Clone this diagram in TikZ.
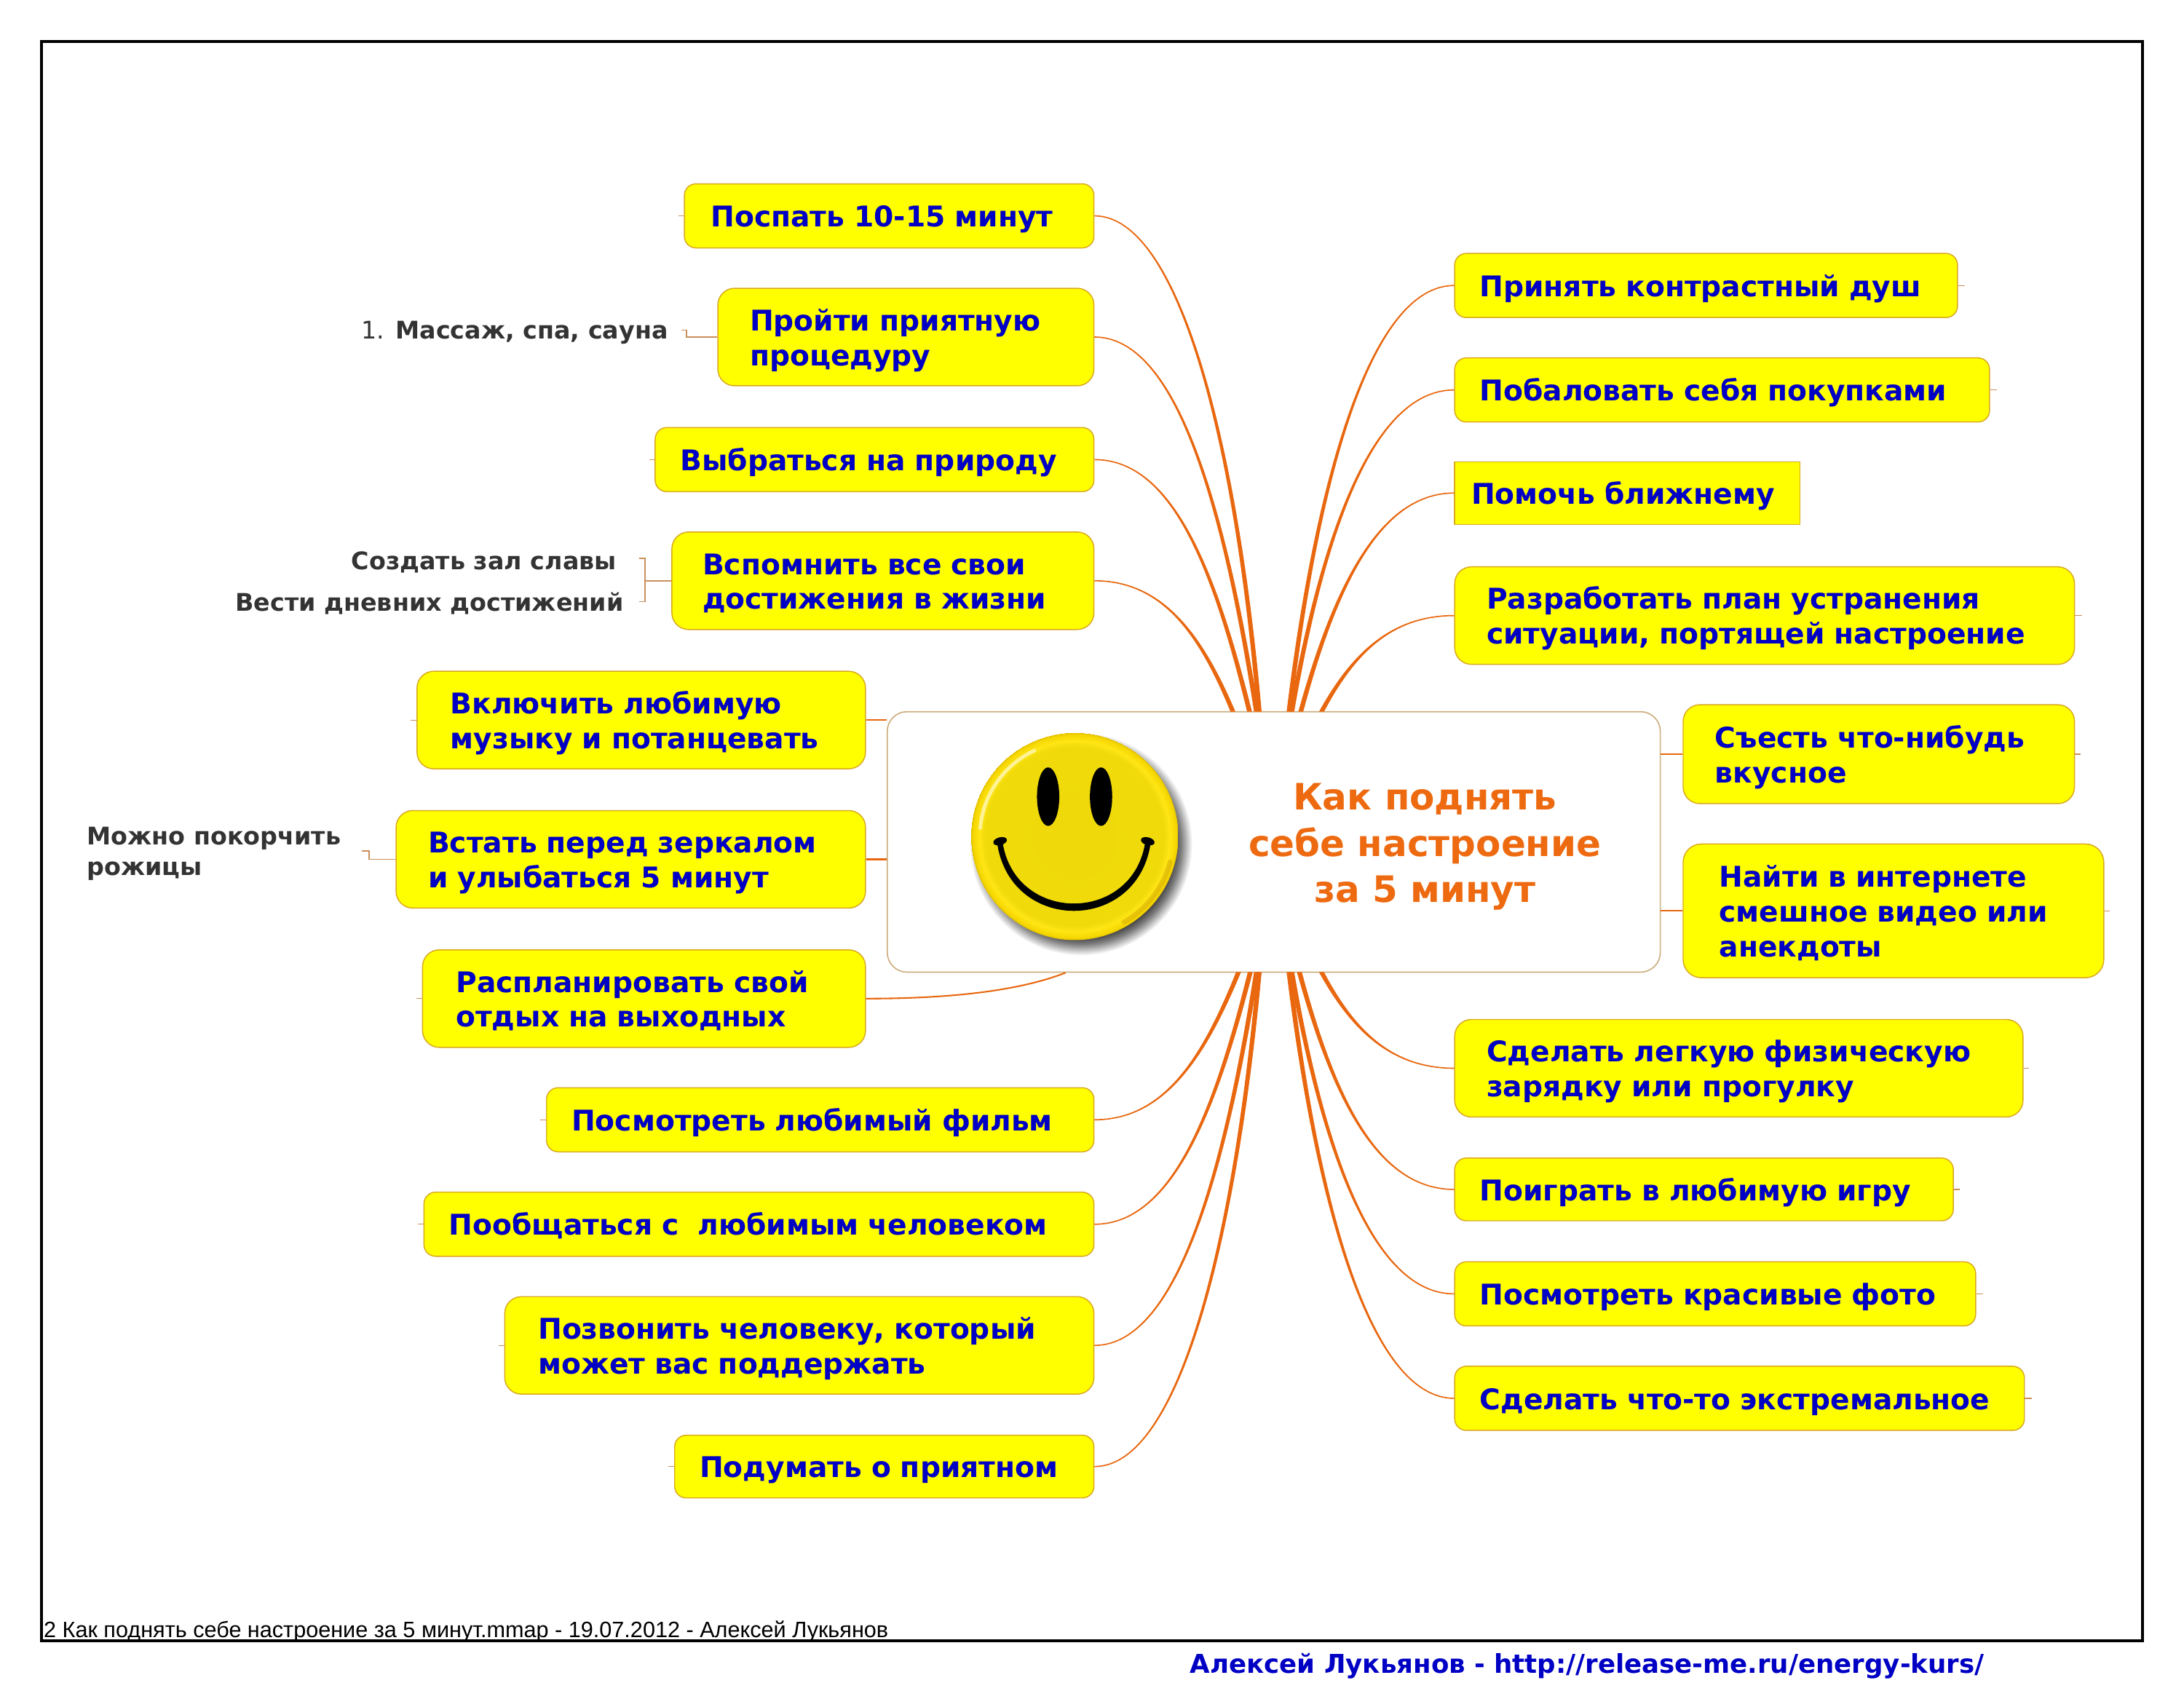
\documentclass[tikz,border=0pt]{standalone}
\usepackage{fontspec}
\setmainfont{DejaVu Sans}
\newfontfamily\footfont{Liberation Sans}
\usetikzlibrary{calc}
\definecolor{leafyellow}{HTML}{FFFF00}
\definecolor{leafline}{HTML}{D9A81E}
\definecolor{leafblue}{HTML}{0000C4}
\definecolor{rootline}{HTML}{CDAE80}
\definecolor{limborange}{HTML}{E8670F}
\definecolor{twigline}{HTML}{C98F5A}
\definecolor{notegray}{HTML}{333333}
\definecolor{titleorange}{HTML}{EE6A10}
\pgfdeclareradialshading{facedisc}{\pgfpointorigin}{rgb(0bp)=(.937,.851,.04); rgb(21.5bp)=(.941,.855,.04); rgb(23bp)=(1,.9,.08); rgb(24.5bp)=(.96,.84,0); rgb(25bp)=(.88,.745,0)}
\pgfdeclareradialshading{facehalo}{\pgfpointorigin}{rgb(0bp)=(.2,.2,.2); rgb(20.5bp)=(.2,.2,.2); rgb(22.5bp)=(.5,.5,.5); rgb(25bp)=(1,1,1)}
\newcommand{\leaffont}{\fontsize{9.4}{11.48}\selectfont\bfseries}
\newcommand{\notefont}{\fontsize{8}{10.1}\selectfont\bfseries}
\tikzset{
	leaf/.style n args = {3}{draw = leafline, line width = .35pt, fill = leafyellow, anchor = west, align = left,
		text = leafblue, font = \leaffont, inner ysep = 0pt, inner xsep = #3*.4592pt,
		text width = (#1-2*#3)*.4592pt, minimum height = #2*.4592pt, rounded corners = 3.8pt,
		execute at begin node = \rule{0pt}{10.75pt}, execute at end node = \strut},
	note/.style = {font = \notefont, text = notegray, inner sep = 0pt, align = left},
	limb/.style = {draw = limborange, fill = limborange, line width = .4pt},
	link/.style = {draw = limborange, line width = .5pt},
	twig/.style = {draw = twigline, line width = .4pt},
	stub/.style = {draw = twigline, line width = .3pt}
}
% fills a branch that widens towards the root
\newcommand{\limb}[5]{\filldraw[limb] (#1) .. controls (#2) and ($(#3)+(-.9,0)$) .. ($(root.#4)+(#5-1.3,0)$) -- ($(root.#4)+(#5+1.3,0)$) .. controls ($(#3)+(.9,0)$) and (#2) .. (#1);}
\begin{document}
\begin{tikzpicture}[x = .4592pt, y = -.4592pt]
	\useasboundingbox (0,0) rectangle (1568,1207.9);
	\draw[line width = 1pt] (30,30) rectangle (1538,1178);
	% centre
	\node[draw = rootline, line width = .4pt, fill = white, rounded corners = 6.5pt, minimum width = 555*.4592pt, minimum height = 187*.4592pt, inner sep = 0pt] (root) at (914.5,604.5) {};
	\shade[shading = facehalo] (776,606) circle (80);
	\shade[shading = facedisc] (771.5,600.5) circle (74.5);
	\draw[white, opacity = .55, line width = 1.2pt, line cap = round] (771.5,600.5) ++(-115:68) arc (-115:-175:68);
	\draw[black!45!orange, opacity = .18, line width = 1.6pt, line cap = round] (771.5,600.5) ++(60:71) arc (60:15:71);
	\fill (752.5,572) ellipse [x radius = 8, y radius = 21];
	\fill (790.5,572) ellipse [x radius = 8, y radius = 21];
	\fill (716,606) .. controls (726,670) and (816,670) .. (826,606) -- (822,606) .. controls (812,663) and (730,663) .. (720,606) -- cycle;
	\fill[rotate around = {15:(718,604)}] (718,604) ellipse [x radius = 5, y radius = 2.8];
	\fill[rotate around = {-15:(824,604)}] (824,604) ellipse [x radius = 5, y radius = 2.8];
	\node[font = \fontsize{12}{15.2}\selectfont\bfseries, text = titleorange, align = center, inner sep = 0pt] (title) at (1023,608) {Как поднять\\себе настроение\\за 5 минут};
	% left side
	\node[leaf = {294}{46}{19}] (sleep) at (491,155) {Поспать 10-15 минут};
	\node[leaf = {270}{70}{23}, rounded corners = 5.5pt] (spa) at (515,242) {Пройти приятную\\процедуру};
	\node[leaf = {315}{46}{18}] (nature) at (470,330) {Выбраться на природу};
	\node[leaf = {303}{70}{22}, rounded corners = 5.5pt] (wins) at (482,417) {Вспомнить все свои\\достижения в жизни};
	\node[leaf = {322}{70}{24}, rounded corners = 5.5pt] (music) at (299,517) {Включить любимую\\музыку и потанцевать};
	\node[leaf = {337}{70}{23}, rounded corners = 5.5pt] (mirror) at (284,617) {Встать перед зеркалом\\и улыбаться 5 минут};
	\node[leaf = {318}{70}{24}, rounded corners = 5.5pt] (rest) at (303,717) {Распланировать свой\\отдых на выходных};
	\node[leaf = {393}{46}{18}] (film) at (392,804) {Посмотреть любимый фильм};
	\node[leaf = {481}{46}{18}] (talk) at (304,879) {Пообщаться с\ \ любимым человеком};
	\node[leaf = {423}{70}{24}, rounded corners = 5.5pt] (call) at (362,966) {Позвонить человеку, который\\может вас поддержать};
	\node[leaf = {301}{45}{18}] (think) at (484,1053) {Подумать о приятном};
	% right side
	\node[leaf = {361}{46}{18}] (shower) at (1044,205) {Принять контрастный душ};
	\node[leaf = {384}{46}{18}] (shop) at (1044,280) {Побаловать себя покупками};
	\node[leaf = {248}{45}{12}, rounded corners = 0pt] (help) at (1044,354) {Помочь ближнему};
	\node[leaf = {445}{70}{23}, rounded corners = 5.5pt] (plan) at (1044,442) {Разработать план устранения\\ситуации, портящей настроение};
	\node[leaf = {281}{71}{23}, rounded corners = 5.5pt] (eat) at (1208,541.5) {Съесть что-нибудь\\вкусное};
	\node[leaf = {302}{96}{26}, rounded corners = 6pt] (video) at (1208,654) {Найти в интернете\\смешное видео или\\анекдоты};
	\node[leaf = {408}{70}{23}, rounded corners = 5.5pt] (walk) at (1044,767) {Сделать легкую физическую\\зарядку или прогулку};
	\node[leaf = {358}{45}{18}] (game) at (1044,854) {Поиграть в любимую игру};
	\node[leaf = {374}{46}{18}] (photo) at (1044,929) {Посмотреть красивые фото};
	\node[leaf = {409}{46}{18}] (risk) at (1044,1004) {Сделать что-то экстремальное};
	% notes
	\node[note, anchor = east] (massage) at (480,239) {{\mdseries 1.} Массаж, спа, сауна};
	\node[note, anchor = east] (hall) at (443,403.5) {Создать зал славы};
	\node[note, anchor = east] (diary) at (448,433.5) {Вести дневних достижений};
	\node[note, anchor = west] (faces) at (62,613) {Можно покорчить\\рожицы};
	% branches
	\limb{sleep.east}{845,155}{887,312}{north}{-10.5}
	\limb{spa.east}{844,242}{878,360}{north}{-12.5}
	\limb{nature.east}{842,330}{872,410}{north}{-17.5}
	\limb{wins.east}{836,417}{863,458}{north}{-29.5}
	\limb{shower.west}{985,205}{946,340}{north}{11}
	\limb{shop.west}{986,280}{950,382}{north}{13}
	\limb{help.west}{990,354}{958,423}{north}{19.5}
	\limb{plan.west}{997,442}{970,472}{north}{34.5}
	\limb{film.east}{837,804}{865,757}{south}{-25.5}
	\limb{talk.east}{841,879}{872,799}{south}{-17}
	\limb{call.east}{843,966}{878,849}{south}{-12.5}
	\limb{think.east}{845,1053}{886,897}{south}{-10.5}
	\limb{walk.west}{997,767}{970,737}{south}{34.5}
	\limb{game.west}{988,854}{957,786}{south}{18.5}
	\limb{photo.west}{986,929}{950,827}{south}{13}
	\limb{risk.west}{985,1004}{946,869}{south}{11}
	\draw[link] (rest.east) .. controls (680,717) and (730,712) .. ($(root.south)+(-149.5,0)$);
	\draw[link] (music.east) -- (music.east -| root.west);
	\draw[link] (mirror.east) -- (mirror.east -| root.west);
	\draw[link] (eat.west) -- (eat.west -| root.east);
	\draw[link] (video.west) -- (video.west -| root.east);
	% twigs to the notes
	\draw[twig] (spa.west) -- ++(-22,0) -- ++(0,-5) -- ++(-4,0);
	\draw[twig] (wins.west) -- ++(-19,0) ++(-4,-16) -- ++(4,0) -- ++(0,31) -- ++(-4,0);
	\draw[twig] (mirror.west) -- ++(-19,0) -- ++(0,-6) -- ++(-5,0);
	% stubs
	\draw[stub] (sleep.west) -- ++(-4,0);
	\draw[stub] (nature.west) -- ++(-4,0);
	\draw[stub] (music.west) -- ++(-4,0);
	\draw[stub] (rest.west) -- ++(-4,0);
	\draw[stub] (film.west) -- ++(-4,0);
	\draw[stub] (talk.west) -- ++(-4,0);
	\draw[stub] (call.west) -- ++(-4,0);
	\draw[stub] (think.west) -- ++(-4,0);
	\draw[stub] (shower.east) -- ++(5,0);
	\draw[stub] (shop.east) -- ++(5,0);
	\draw[stub] (plan.east) -- ++(5,0);
	\draw[stub] (eat.east) -- ++(4,0);
	\draw[stub] (video.east) -- ++(4,0);
	\draw[stub] (walk.east) -- ++(4,0);
	\draw[stub] (game.east) -- ++(4,0);
	\draw[stub] (photo.east) -- ++(5,0);
	\draw[stub] (risk.east) -- ++(5,0);
	% footer
	\node[font = \footfont\fontsize{7.35}{9}\selectfont, anchor = west, inner sep = 0pt] (mapname) at (31,1171.5) {2 Как поднять себе настроение за 5 минут.mmap - 19.07.2012 - Алексей Лукьянов};
	\node[font = \fontsize{8.54}{10}\selectfont\bfseries, text = leafblue, anchor = west, inner sep = 0pt] (credit) at (854,1196) {Алексей Лукьянов - http://release-me.ru/energy-kurs/};
\end{tikzpicture}
\end{document}
